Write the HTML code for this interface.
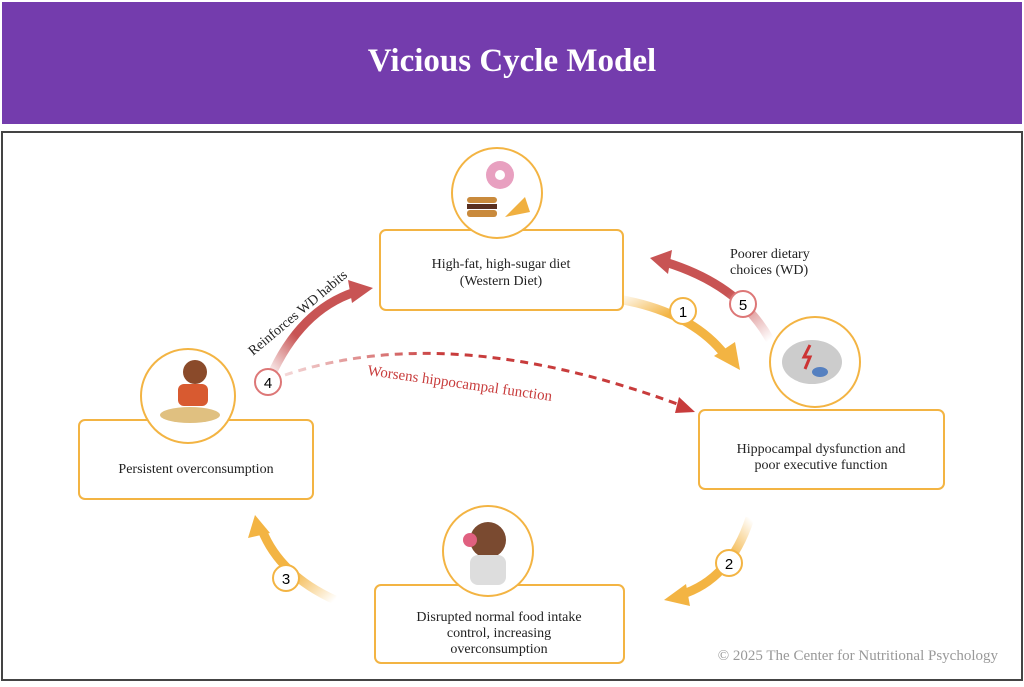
<!DOCTYPE html>
<html><head><meta charset="utf-8"><style>
body{margin:0;width:1024px;height:682px;background:#fff;overflow:hidden;font-family:"Liberation Serif",serif}
</style></head><body>
<svg width="1024" height="682" viewBox="0 0 1024 682" xmlns="http://www.w3.org/2000/svg" font-family="Liberation Serif, serif">
<defs>
<linearGradient id="gy1" x1="0" y1="0" x2="1" y2="1"><stop offset="0" stop-color="#f3b443" stop-opacity="0"/><stop offset="0.4" stop-color="#f3b443"/></linearGradient>
<linearGradient id="gr5" x1="1" y1="1" x2="0" y2="0"><stop offset="0" stop-color="#c85454" stop-opacity="0"/><stop offset="0.5" stop-color="#c85454"/></linearGradient>
<linearGradient id="gr4" x1="0" y1="1" x2="1" y2="0"><stop offset="0" stop-color="#c85454" stop-opacity="0"/><stop offset="0.4" stop-color="#c85454"/></linearGradient>
<linearGradient id="gy2" x1="1" y1="0" x2="0" y2="1"><stop offset="0" stop-color="#f3b443" stop-opacity="0"/><stop offset="0.4" stop-color="#f3b443"/></linearGradient>
<linearGradient id="gy3" x1="1" y1="1" x2="0" y2="0"><stop offset="0" stop-color="#f3b443" stop-opacity="0"/><stop offset="0.5" stop-color="#f3b443"/></linearGradient>
<linearGradient id="gd" x1="0" y1="0" x2="1" y2="0"><stop offset="0" stop-color="#c83c3c" stop-opacity="0.2"/><stop offset="0.4" stop-color="#c83c3c"/></linearGradient>
</defs>
<rect x="2" y="2" width="1020" height="122" fill="#743cad"/>
<text x="512" y="71" text-anchor="middle" fill="#fff" font-size="33" font-weight="bold">Vicious Cycle Model</text>
<rect x="2" y="132" width="1020" height="548" fill="#fff" stroke="#444" stroke-width="2"/>

<path d="M612 298 Q690 310 725 355" fill="none" stroke="url(#gy1)" stroke-width="9"/>
<polygon points="714,356 740,370 735,342" fill="#f3b443"/>
<path d="M770 340 Q740 285 665 262" fill="none" stroke="url(#gr5)" stroke-width="9"/>
<polygon points="650,258 672,250 668,274" fill="#c85454"/>
<path d="M270 378 Q300 310 355 292" fill="none" stroke="url(#gr4)" stroke-width="9"/>
<polygon points="373,288 348,280 352,303" fill="#c85454"/>
<path d="M750 518 Q730 580 680 595" fill="none" stroke="url(#gy2)" stroke-width="9"/>
<polygon points="664,600 686,584 690,606" fill="#f3b443"/>
<path d="M335 600 Q280 575 262 530" fill="none" stroke="url(#gy3)" stroke-width="9"/>
<polygon points="255,515 248,538 270,533" fill="#f3b443"/>
<path d="M285 375 Q450 320 680 405" fill="none" stroke="url(#gd)" stroke-width="3" stroke-dasharray="8,6"/>
<polygon points="695,412 679,397 675,413" fill="#c83c3c"/>

<g font-family="Liberation Sans, sans-serif" font-size="15" text-anchor="middle">
<circle cx="683" cy="311" r="13" fill="#fff" stroke="#f3b443" stroke-width="2"/><text x="683" y="317">1</text>
<circle cx="743" cy="304" r="13" fill="#fff" stroke="#d77" stroke-width="2"/><text x="743" y="310">5</text>
<circle cx="268" cy="382" r="13" fill="#fff" stroke="#d77" stroke-width="2"/><text x="268" y="388">4</text>
<circle cx="729" cy="563" r="13" fill="#fff" stroke="#f3b443" stroke-width="2"/><text x="729" y="569">2</text>
<circle cx="286" cy="578" r="13" fill="#fff" stroke="#f3b443" stroke-width="2"/><text x="286" y="584">3</text>
</g>

<g fill="#fff" stroke="#f3b443" stroke-width="2">
<rect x="380" y="230" width="243" height="80" rx="6"/>
<rect x="699" y="410" width="245" height="79" rx="6"/>
<rect x="79" y="420" width="234" height="79" rx="6"/>
<rect x="375" y="585" width="249" height="78" rx="6"/>
<circle cx="497" cy="193" r="45"/>
<circle cx="815" cy="362" r="45"/>
<circle cx="188" cy="396" r="47"/>
<circle cx="488" cy="551" r="45"/>
</g>
<circle cx="500" cy="175" r="14" fill="#e8a0c0"/><circle cx="500" cy="175" r="5" fill="#fff"/>
<rect x="467" y="197" width="30" height="6" rx="3" fill="#c98a3c"/><rect x="467" y="204" width="30" height="5" fill="#5a3020"/><rect x="467" y="210" width="30" height="7" rx="3" fill="#c98a3c"/>
<polygon points="505,217 525,197 530,212" fill="#f0b040"/>
<ellipse cx="812" cy="362" rx="30" ry="22" fill="#ccc"/><path d="M810 345 l-6 12 6 0 -5 12" stroke="#c33" stroke-width="3" fill="none"/><ellipse cx="820" cy="372" rx="8" ry="5" fill="#5580c0"/>
<circle cx="195" cy="372" r="12" fill="#8a4a2a"/><rect x="178" y="384" width="30" height="22" rx="6" fill="#d85a30"/><ellipse cx="190" cy="415" rx="30" ry="8" fill="#e0c080"/>
<circle cx="488" cy="540" r="18" fill="#7a4a30"/><rect x="470" y="555" width="36" height="30" rx="8" fill="#ddd"/><circle cx="470" cy="540" r="7" fill="#e06080"/>

<g font-size="14" fill="#222" text-anchor="middle">
<text x="501" y="268">High-fat, high-sugar diet</text><text x="501" y="285">(Western Diet)</text>
<text x="821" y="453">Hippocampal dysfunction and</text><text x="821" y="469">poor executive function</text>
<text x="196" y="473">Persistent overconsumption</text>
<text x="499" y="621">Disrupted normal food intake</text><text x="499" y="637">control, increasing</text><text x="499" y="653">overconsumption</text>
<text x="730" y="258" text-anchor="start">Poorer dietary</text><text x="730" y="274" text-anchor="start">choices (WD)</text>
</g>
<text font-size="14" fill="#222" transform="translate(253,356) rotate(-40)">Reinforces WD habits</text>
<text font-size="15" fill="#c83c3c" transform="translate(367,375) rotate(8)">Worsens hippocampal function</text>
<text x="998" y="660" text-anchor="end" font-size="15" fill="#999">© 2025 The Center for Nutritional Psychology</text>
</svg>
</body></html>
